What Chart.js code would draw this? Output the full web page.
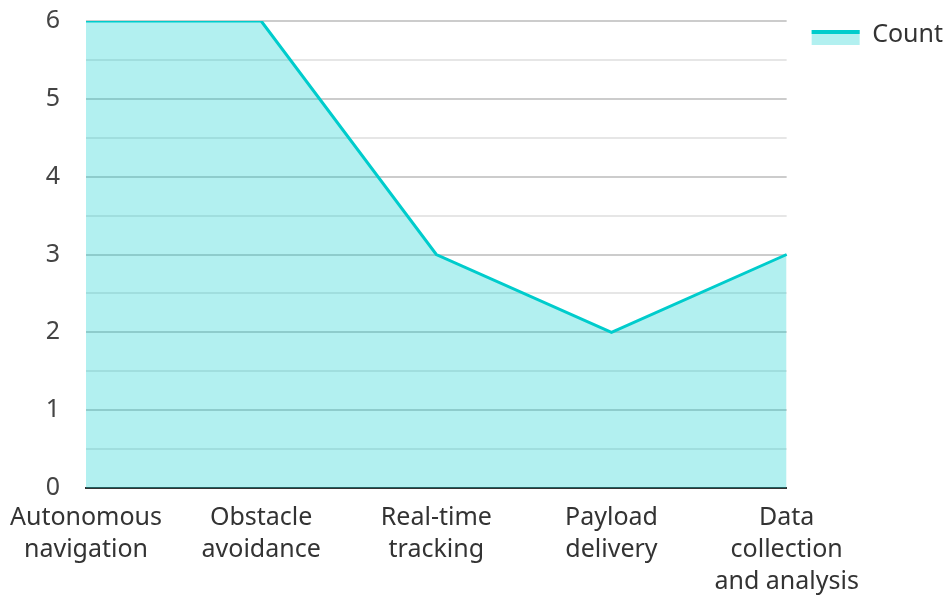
<!DOCTYPE html>
<html>
<head>
<meta charset="utf-8">
<script src="https://cdn.jsdelivr.net/npm/chart.js@4"></script>
<style>
  html, body { margin: 0; padding: 0; background: #ffffff; }
  #wrap { width: 945px; height: 595px; position: relative; }
</style>
</head>
<body>
<div id="wrap"><canvas id="c"></canvas></div>
<script>
const categories = [
  ["Autonomous", "navigation"],
  ["Obstacle", "avoidance"],
  ["Real-time", "tracking"],
  ["Payload", "delivery"],
  ["Data", "collection", "and analysis"]
];
const seriesName = "Count";
const countValues = [6, 6, 3, 2, 3];
const yMin = 0;
const yMax = 6;
const yStep = 0.5;

const lineColor = "#00CCCC";
const fillColor = "rgba(0, 204, 204, 0.3)";
const FONT = "'Noto Sans', 'Open Sans', sans-serif";

const legendBoxes = {
  id: "legendBoxes",
  afterDraw(chart) {
    const lg = chart.legend;
    if (!lg || !lg.legendHitBoxes) return;
    const bw = 48, bh = 15;
    const ctx = chart.ctx;
    ctx.save();
    lg.legendHitBoxes.forEach((hb) => {
      const top = hb.top + (hb.height - bh) / 2 + 3;
      ctx.fillStyle = fillColor;
      ctx.fillRect(hb.left, top, bw, bh);
      ctx.fillStyle = lineColor;
      ctx.fillRect(hb.left, top, bw, 4);
    });
    ctx.restore();
  }
};

new Chart(document.getElementById("c"), {
  type: "line",
  data: {
    labels: categories,
    datasets: [{
      label: seriesName,
      data: countValues,
      borderColor: lineColor,
      backgroundColor: fillColor,
      borderWidth: 3,
      fill: "origin",
      tension: 0,
      pointRadius: 0,
      pointHoverRadius: 0
    }]
  },
  options: {
    responsive: true,
    maintainAspectRatio: false,
    animation: false,
    layout: { padding: { left: 0, right: -8, top: -3, bottom: 0 } },
    plugins: {
      tooltip: { enabled: false },
      legend: {
        position: "right",
        align: "start",
        labels: {
          boxWidth: 48,
          boxHeight: 15,
          padding: 25,
          color: "#333333",
          font: { family: FONT, size: 25 },
          generateLabels: (chart) => [{
            text: seriesName,
            fillStyle: "rgba(0,0,0,0)",
            strokeStyle: "rgba(0,0,0,0)",
            lineWidth: 0,
            fontColor: "#333333",
            datasetIndex: 0,
            hidden: false
          }]
        }
      }
    },
    scales: {
      x: {
        type: "category",
        offset: false,
        grid: { display: false, drawTicks: false },
        border: { display: true, color: "#333333", width: 2 },
        ticks: {
          color: "#333333",
          padding: 14,
          maxRotation: 0,
          autoSkip: false,
          font: { family: FONT, size: 25, lineHeight: 1.28 }
        },
        afterFit(scale) {
          scale.height = 107;
          scale.paddingLeft = 0;
          scale.paddingRight = 158;
        }
      },
      y: {
        min: yMin,
        max: yMax,
        grid: {
          drawTicks: false,
          color: (ctx) => (ctx.tick && Number.isInteger(ctx.tick.value)) ? "#cccccc" : "#e6e6e6",
          lineWidth: 2
        },
        border: { display: false },
        ticks: {
          stepSize: yStep,
          color: "#444444",
          padding: 26,
          font: { family: FONT, size: 25 },
          callback: (v) => Number.isInteger(v) ? String(v) : ""
        },
        afterFit(scale) {
          scale.width = 86;
          scale.paddingTop = 21;
        }
      }
    }
  },
  plugins: [legendBoxes]
});
</script>
</body>
</html>
